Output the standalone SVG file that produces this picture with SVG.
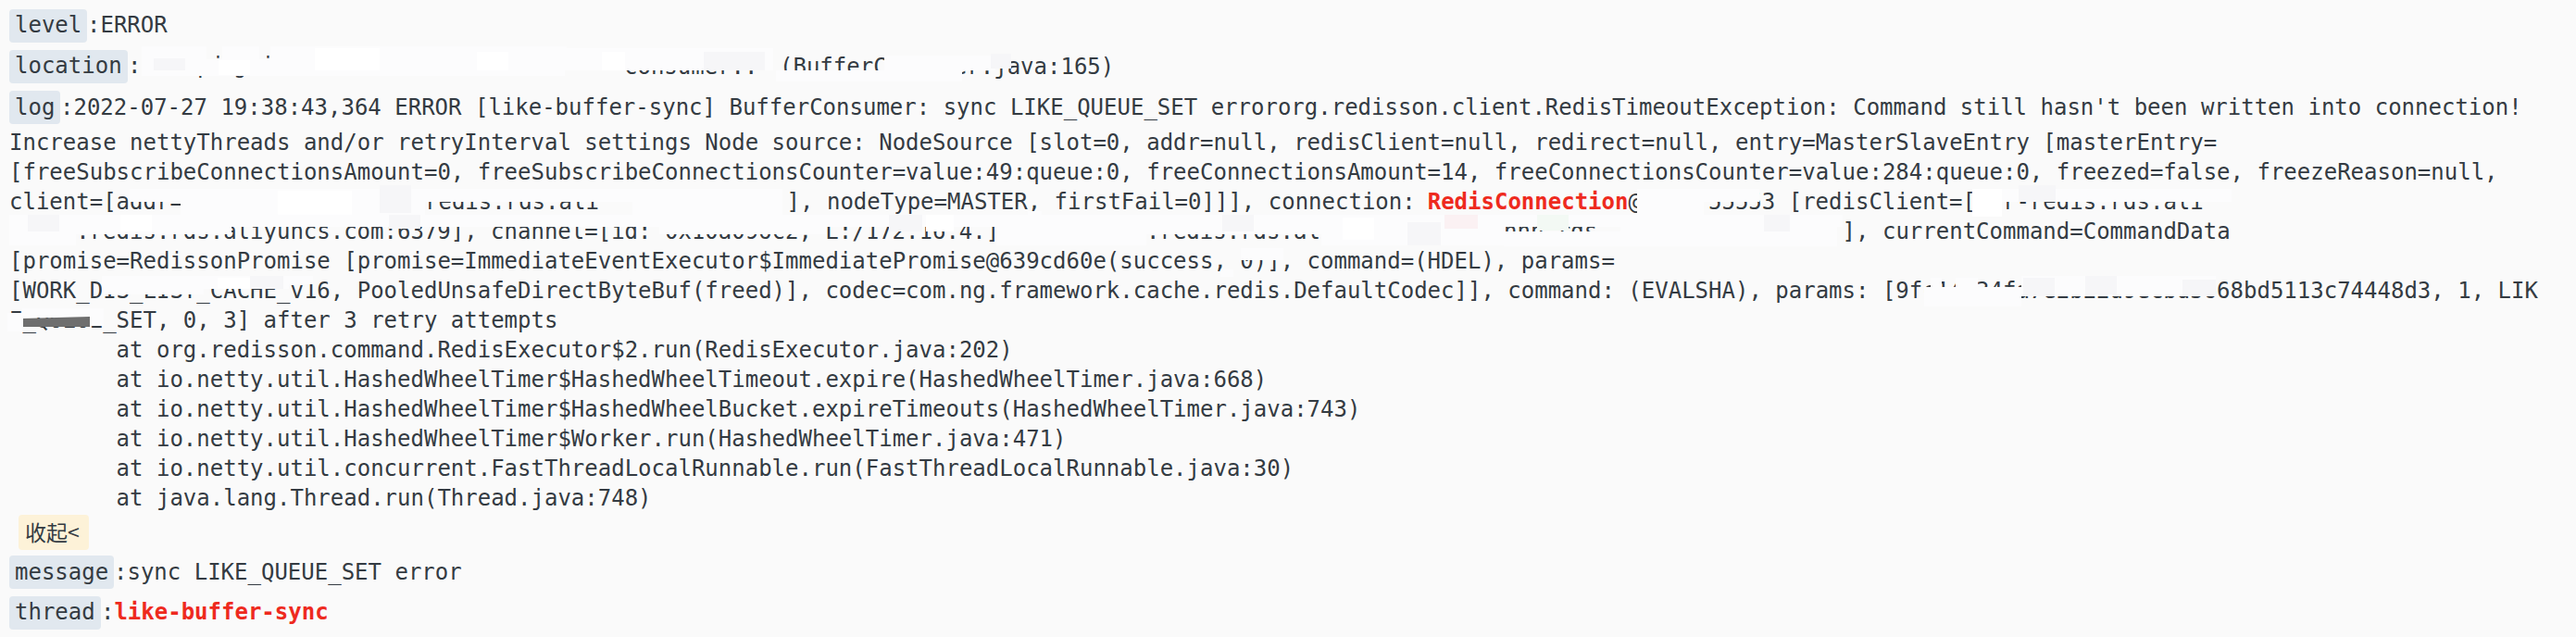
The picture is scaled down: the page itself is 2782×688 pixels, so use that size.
<svg xmlns="http://www.w3.org/2000/svg" width="2782" height="688" viewBox="0 0 2782 688">
<style>
text{font-family:"DejaVu Sans Mono","Liberation Mono",monospace;font-size:24px;fill:#343b42;white-space:pre}
.red{fill:#ee2a1e;font-weight:bold}
.tag{fill:#e1e8ef}
.p{fill:#fcfcfd}
.w{fill:#ffffff}
.g{fill:#f6f6f8}
</style>
<rect width="2782" height="688" fill="#fafafa"/>
<g id="level"><rect class="tag" x="10" y="10" width="84" height="36" rx="4"/><text x="16" y="35">level</text><text x="94" y="35">:ERROR</text></g>
<g id="location"><rect class="tag" x="10" y="54" width="128" height="36" rx="4"/><text x="16" y="79">location</text><text x="138" y="79">:</text>
<text x="213" y="79">p</text><text x="252" y="79">g</text><text x="228" y="79">i</text><text x="282" y="79">i</text>
<text x="674" y="80">consumer::</text><text x="842" y="80">(BufferConsumer.java:165)</text>
<rect class="p" x="153" y="64" width="457" height="18"/><rect class="p" x="153" y="50" width="70" height="14"/><rect class="p" x="240" y="50" width="40" height="14"/><rect class="p" x="292" y="50" width="320" height="14"/>
<rect class="g" x="166" y="63" width="34" height="13"/><rect class="w" x="236" y="65" width="34" height="16"/><rect class="w" x="340" y="52" width="70" height="24"/><rect class="w" x="515" y="56" width="34" height="20"/>
<rect class="p" x="610" y="52" width="225" height="24"/><rect class="w" x="650" y="56" width="25" height="20"/><rect class="g" x="760" y="56" width="66" height="20"/>
<rect class="p" x="838" y="76" width="130" height="12"/><rect class="p" x="955" y="60" width="120" height="16"/><rect class="p" x="955" y="76" width="84" height="12"/><rect class="g" x="1070" y="58" width="22" height="16"/>
</g>
<g id="log"><rect class="tag" x="10" y="98" width="55" height="36" rx="4"/><text x="16" y="124">log</text>
<text x="65" y="124">:2022-07-27 19:38:43,364 ERROR [like-buffer-sync] BufferConsumer: sync LIKE_QUEUE_SET errororg.redisson.client.RedisTimeoutException: Command still hasn't been written into connection!</text>
<text x="10" y="162">Increase nettyThreads and/or retryInterval settings Node source: NodeSource [slot=0, addr=null, redisClient=null, redirect=null, entry=MasterSlaveEntry [masterEntry=</text>
<text x="10" y="194">[freeSubscribeConnectionsAmount=0, freeSubscribeConnectionsCounter=value:49:queue:0, freeConnectionsAmount=14, freeConnectionsCounter=value:284:queue:0, freezed=false, freezeReason=null,</text>
<text x="10" y="226">client=[addr=</text><text x="459" y="226">redis.rds.ali</text><text x="849.6" y="226">], nodeType=MASTER, firstFail=0]]], connection: </text><text class="red" x="1541.7" y="226">RedisConnection</text><text x="1758.5" y="226">@</text><text x="1845" y="226">55553 [redisClient=[</text><text x="2163" y="226">r-redis.rds.ali</text>
<text x="82.2" y="258">.redis.rds.aliyuncs.com:6379], channel=[id: 0x10a096c2, L:/172.16.4.]</text><text x="1238" y="258">.redis.rds.ali</text><text x="1624" y="258">nnn.rds</text><text x="1989.6" y="258">], currentCommand=CommandData</text>
<text x="10" y="290">[promise=RedissonPromise [promise=ImmediateEventExecutor$ImmediatePromise@639cd60e(success, 0)], command=(HDEL), params=</text>
<text x="10" y="322">[WORK_DIS_LIST_CACHE_v16, PooledUnsafeDirectByteBuf(freed)], codec=com.ng.framework.cache.redis.DefaultCodec]], command: (EVALSHA), params: [9fc14d34fa7e2b22d9ecbd5668bd5113c74448d3, 1, LIK</text>
<text x="10" y="354">E_QUEUE_SET, 0, 3] after 3 retry attempts</text>
<text x="125.6" y="386">at org.redisson.command.RedisExecutor$2.run(RedisExecutor.java:202)</text>
<text x="125.6" y="418">at io.netty.util.HashedWheelTimer$HashedWheelTimeout.expire(HashedWheelTimer.java:668)</text>
<text x="125.6" y="450">at io.netty.util.HashedWheelTimer$HashedWheelBucket.expireTimeouts(HashedWheelTimer.java:743)</text>
<text x="125.6" y="482">at io.netty.util.HashedWheelTimer$Worker.run(HashedWheelTimer.java:471)</text>
<text x="125.6" y="514">at io.netty.util.concurrent.FastThreadLocalRunnable.run(FastThreadLocalRunnable.java:30)</text>
<text x="125.6" y="546">at java.lang.Thread.run(Thread.java:748)</text>
<!-- redaction patches, line 226 -->
<rect class="p" x="140" y="204" width="320" height="14"/><rect class="p" x="195" y="218" width="264" height="14"/><rect class="p" x="455" y="204" width="240" height="14"/><rect class="p" x="683" y="204" width="162" height="28"/>
<rect class="w" x="300" y="206" width="80" height="26"/><rect class="g" x="410" y="200" width="34" height="30"/>
<rect class="p" x="1768" y="204" width="132" height="14"/><rect class="p" x="1768" y="218" width="72" height="14"/><rect class="p" x="2130" y="204" width="280" height="14"/>
<rect class="w" x="2130" y="204" width="32" height="30"/><rect class="g" x="2180" y="200" width="40" height="18"/>
<rect class="p" x="1110" y="228" width="15" height="6"/>
<!-- line 258 -->
<rect class="p" x="10" y="232" width="1980" height="13"/><rect class="p" x="10" y="245" width="240" height="8"/><rect class="p" x="712" y="245" width="180" height="8"/><rect class="p" x="10" y="245" width="72" height="20"/>
<rect class="p" x="1076" y="232" width="162" height="33"/><rect class="p" x="1238" y="245" width="200" height="8"/><rect class="p" x="1427" y="232" width="197" height="33"/><rect class="p" x="1624" y="250" width="360" height="16"/><rect class="p" x="1750" y="232" width="234" height="33"/>
<rect class="g" x="30" y="232" width="34" height="18"/><rect class="w" x="130" y="232" width="34" height="18"/><rect class="g" x="420" y="232" width="34" height="15"/><rect class="g" x="960" y="232" width="36" height="18"/><rect class="w" x="1000" y="232" width="30" height="18"/><rect class="g" x="1320" y="232" width="34" height="18"/><rect class="w" x="1450" y="235" width="34" height="24"/><rect class="g" x="1520" y="240" width="36" height="25"/><rect x="1660" y="232" width="34" height="17" fill="#f3f9f4"/><rect x="1560" y="232" width="36" height="15" fill="#fbf1f3"/><rect class="g" x="1905" y="232" width="28" height="18"/>
<!-- line 290 -->
<rect class="p" x="1318" y="291" width="14" height="8"/><rect class="p" x="1340" y="268" width="46" height="13"/>
<!-- line 322 -->
<rect class="p" x="110" y="298" width="110" height="20"/><rect class="p" x="220" y="298" width="92" height="14"/><rect class="p" x="312" y="298" width="26" height="9"/><rect class="w" x="235" y="300" width="36" height="12"/><rect class="g" x="270" y="298" width="36" height="14"/>
<rect class="p" x="2078" y="310" width="105" height="21"/><rect class="p" x="2085" y="300" width="12" height="10"/><rect class="p" x="2112" y="300" width="24" height="10"/><rect class="p" x="2183" y="298" width="210" height="22"/><rect class="g" x="2185" y="300" width="34" height="20"/><rect class="g" x="2252" y="298" width="34" height="20"/><rect class="g" x="2357" y="302" width="36" height="18"/>
<!-- line 354 -->
<rect class="p" x="8" y="338" width="16" height="20"/><rect class="p" x="24" y="333" width="88" height="10"/><rect class="p" x="97" y="343" width="15" height="9"/><path d="M25 344L97 342V353H25Z" fill="#6e6e6e"/>
</g>
<g id="collapse"><rect x="20" y="556" width="76" height="38" rx="4" fill="#fdf2d8"/><text x="27" y="584" style="font-family:'Noto Sans CJK SC','DejaVu Sans Mono',sans-serif;font-size:23px">收起&lt;</text></g>
<g id="message"><rect class="tag" x="10" y="600" width="113" height="36" rx="4"/><text x="16" y="626">message</text><text x="123" y="626">:sync LIKE_QUEUE_SET error</text></g>
<g id="thread"><rect class="tag" x="10" y="644" width="99" height="36" rx="4"/><text x="16" y="669">thread</text><text x="109" y="669">:</text><text class="red" x="123.4" y="669">like-buffer-sync</text></g>
<g id="connectors"/>
</svg>
